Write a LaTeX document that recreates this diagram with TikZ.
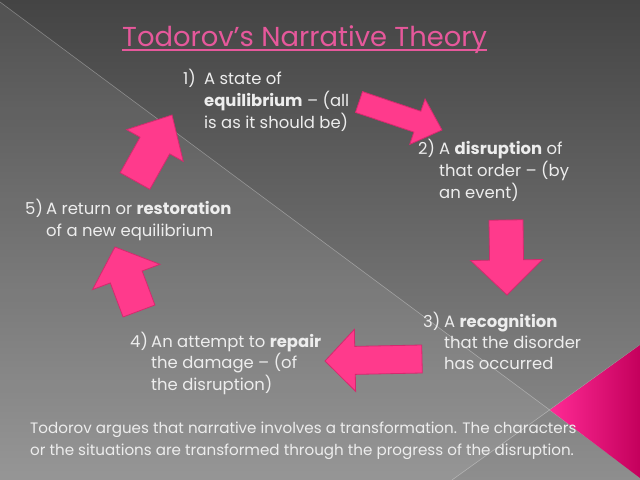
\documentclass[tikz,border=0pt]{standalone}
\usepackage{fontspec}
\setmainfont{Poppins}
\usetikzlibrary{calc}

\definecolor{slidetop}{HTML}{444444}
\definecolor{slidebottom}{HTML}{8E8E8E}
\definecolor{hotpink}{HTML}{FF3A8C}
\definecolor{pinkedge}{HTML}{D42A6E}
\definecolor{titlepink}{HTML}{E6589B}
\definecolor{slidetext}{HTML}{EDEDED}
\definecolor{wedgelight}{HTML}{FF2A95}
\definecolor{wedgedark}{HTML}{C4005C}

\tikzstyle{pinkblock}=[fill=hotpink, draw=pinkedge, line width=0.8bp, line join=miter]
\tikzstyle{stage}=[anchor=base west, inner sep=0pt, text=slidetext, font=\fontsize{16.5}{21.5}\selectfont]
\tikzstyle{slideline}=[draw=white, draw opacity=0.3, line width=0.6bp]

\newcommand{\stagenum}[1]{\makebox[21bp][l]{#1}}
% block arrow: tail, tip, half shaft, half head, head length
\newcommand{\blockarrow}[5]{%
  \draw[pinkblock] let \p1=($(#2)-(#1)$), \n1={atan2(\y1,\x1)} in
    ($(#1)+({\n1+90}:#3bp)$) -- ($(#2)+({\n1+180}:#5bp)+({\n1+90}:#3bp)$)
    -- ($(#2)+({\n1+180}:#5bp)+({\n1+90}:#4bp)$) -- (#2)
    -- ($(#2)+({\n1+180}:#5bp)+({\n1-90}:#4bp)$)
    -- ($(#2)+({\n1+180}:#5bp)+({\n1-90}:#3bp)$) -- ($(#1)+({\n1-90}:#3bp)$) -- cycle;}

\begin{document}
\begin{tikzpicture}[x=1bp, y=-1bp]
  \useasboundingbox (0,0) rectangle (640,480);

  % slide background
  \shade[top color=slidetop, bottom color=slidebottom] (0,0) rectangle (640,480);
  \fill[white, opacity=0.07] (0,2) -- (550,410) -- (452,480) -- (0,480) -- cycle;
  \draw[slideline] (0,2) -- (640,477);
  \draw[slideline] (452,480) -- (640,345);
  \shade[left color=wedgelight, right color=wedgedark] (550,410) -- (640,345) -- (640,478) -- cycle;

  % title
  \node[anchor=base west, inner sep=0pt, text=titlepink, font=\fontsize{27.5}{30}\selectfont] (title) at (122,47) {Todorov’s Narrative Theory};
  \draw[titlepink, line width=1.2bp] ([yshift=-3bp]title.base west) -- ([yshift=-3bp]title.base east);

  % stages
  \node[stage] (one) at (183,85) {\begin{tabular}[t]{@{}l@{}l@{}}\stagenum{1)} & A state of\\ & \textbf{equilibrium} – (all\\ & is as it should be)\end{tabular}};
  \node[stage] (two) at (418,155) {\begin{tabular}[t]{@{}l@{}l@{}}\stagenum{2)} & A \textbf{disruption} of\\ & that order – (by\\ & an event)\end{tabular}};
  \node[stage] (three) at (423,327) {\begin{tabular}[t]{@{}l@{}l@{}}\stagenum{3)} & A \textbf{recognition}\\ & that the disorder\\ & has occurred\end{tabular}};
  \node[stage] (four) at (130,347) {\begin{tabular}[t]{@{}l@{}l@{}}\stagenum{4)} & An attempt to \textbf{repair}\\ & the damage – (of\\ & the disruption)\end{tabular}};
  \node[stage] (five) at (25,215) {\begin{tabular}[t]{@{}l@{}l@{}}\stagenum{5)} & A return or \textbf{restoration}\\ & of a new equilibrium\end{tabular}};

  % arrows
  \coordinate (tail1) at (359,102);  \coordinate (tip1) at (442,130);
  \coordinate (tail2) at (506,220);  \coordinate (tip2) at (507,295);
  \coordinate (tail3) at (422,359);  \coordinate (tip3) at (325,361);
  \coordinate (tail4) at (139,311);  \coordinate (tip4) at (115,247);
  \coordinate (tail5) at (135,181);  \coordinate (tip5) at (172,115);
  \blockarrow{tail1}{tip1}{11}{24}{26}
  \blockarrow{tail2}{tip2}{17}{36}{35}
  \blockarrow{tail3}{tip3}{14}{31}{30}
  \blockarrow{tail4}{tip4}{17}{36}{32}
  \blockarrow{tail5}{tip5}{17}{32.5}{35}

  % summary
  \node[stage, font=\fontsize{15.2}{23}\selectfont] (summary) at (30,433) {\begin{tabular}[t]{@{}l@{}}Todorov argues that narrative involves a transformation. The characters\\or the situations are transformed through the progress of the disruption.\end{tabular}};
\end{tikzpicture}
\end{document}
